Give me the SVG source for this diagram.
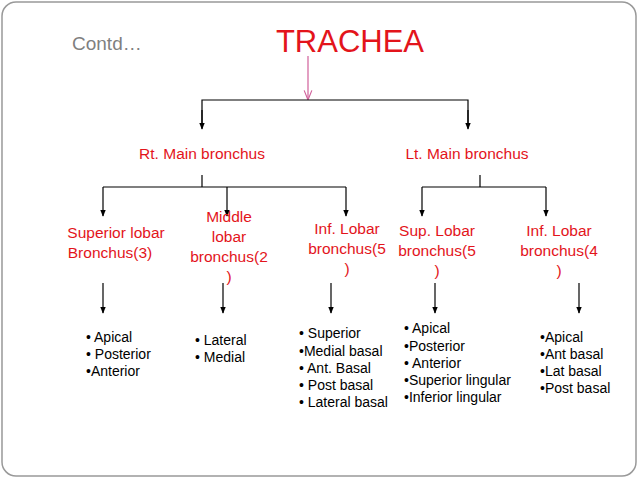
<svg xmlns="http://www.w3.org/2000/svg" width="638" height="478" viewBox="0 0 638 478">
<defs><marker id="a" viewBox="0 0 10 10" refX="9" refY="5" markerWidth="6" markerHeight="6" orient="auto"><path d="M0,1L10,5L0,9z" fill="#000"/></marker>
<marker id="p" viewBox="0 0 10 10" refX="9" refY="5" markerWidth="8" markerHeight="8" orient="auto"><path d="M0,1L10,5L0,9" fill="none" stroke="#d0609a" stroke-width="1.2"/></marker></defs>
<style>text{font-family:"Liberation Sans",Arial,sans-serif}.r{fill:#e3141b;font-size:15.5px;text-anchor:middle}.b{fill:#000;font-size:14px}.l{stroke:#000;stroke-width:1.2;fill:none}.ar{stroke:#000;stroke-width:1.2;marker-end:url(#a)}</style>
<rect x="2" y="2" width="634" height="474" rx="14" fill="#fff" stroke="#999" stroke-width="1.5"/>
<text x="72" y="50" font-size="19" fill="#7f7f7f">Contd…</text>
<g id="trachea"><text x="350" y="52" font-size="31" fill="#e3141b" text-anchor="middle">TRACHEA</text></g>
<g id="connectors">
<line x1="308" y1="56" x2="308" y2="99" stroke="#d0609a" stroke-width="1.2" marker-end="url(#p)"/>
<polyline class="l" points="202,128 202,100 468,100 468,128"/>
<line class="ar" x1="202" y1="110" x2="202" y2="129"/><line class="ar" x1="468" y1="110" x2="468" y2="129"/>
<line class="l" x1="202" y1="175" x2="202" y2="187"/><line class="l" x1="103" y1="187" x2="346" y2="187"/>
<line class="ar" x1="103" y1="187" x2="103" y2="216"/><line class="ar" x1="227" y1="187" x2="227" y2="216"/><line class="ar" x1="346" y1="187" x2="346" y2="216"/>
<line class="l" x1="480" y1="175" x2="480" y2="187"/><line class="l" x1="422" y1="187" x2="546" y2="187"/>
<line class="ar" x1="422" y1="187" x2="422" y2="216"/><line class="ar" x1="546" y1="187" x2="546" y2="216"/>
<line class="ar" x1="103" y1="283" x2="103" y2="313"/><line class="ar" x1="223" y1="283" x2="223" y2="313"/><line class="ar" x1="331" y1="283" x2="331" y2="313"/><line class="ar" x1="435" y1="283" x2="435" y2="313"/><line class="ar" x1="579" y1="283" x2="579" y2="313"/>
</g>
<g id="rt"><text class="r" x="202" y="159">Rt. Main bronchus</text></g>
<g id="lt"><text class="r" x="467" y="159">Lt. Main bronchus</text></g>
<g id="sup"><text class="r" x="116" y="238">Superior lobar</text><text class="r" x="110" y="258">Bronchus(3)</text></g>
<g id="mid"><text class="r" x="229" y="222">Middle</text><text class="r" x="229" y="242">lobar</text><text class="r" x="229" y="262">bronchus(2</text><text class="r" x="229" y="282">)</text></g>
<g id="inf"><text class="r" x="347" y="234">Inf. Lobar</text><text class="r" x="347" y="254">bronchus(5</text><text class="r" x="347" y="274">)</text></g>
<g id="lsup"><text class="r" x="437" y="236">Sup. Lobar</text><text class="r" x="437" y="256">bronchus(5</text><text class="r" x="437" y="276">)</text></g>
<g id="linf"><text class="r" x="559" y="236">Inf. Lobar</text><text class="r" x="559" y="256">bronchus(4</text><text class="r" x="559" y="276">)</text></g>
<g id="l1"><text class="b" x="86" y="342">• Apical</text><text class="b" x="86" y="359">• Posterior</text><text class="b" x="86" y="376">•Anterior</text></g>
<g id="l2"><text class="b" x="195" y="345">• Lateral</text><text class="b" x="195" y="362">• Medial</text></g>
<g id="l3"><text class="b" x="299" y="338">• Superior</text><text class="b" x="299" y="356">•Medial basal</text><text class="b" x="299" y="373">• Ant. Basal</text><text class="b" x="299" y="390">• Post basal</text><text class="b" x="299" y="407">• Lateral basal</text></g>
<g id="l4"><text class="b" x="404" y="333">• Apical</text><text class="b" x="404" y="351">•Posterior</text><text class="b" x="404" y="368">• Anterior</text><text class="b" x="404" y="385">•Superior lingular</text><text class="b" x="404" y="402">•Inferior lingular</text></g>
<g id="l5"><text class="b" x="540" y="342">•Apical</text><text class="b" x="540" y="359">•Ant basal</text><text class="b" x="540" y="376">•Lat basal</text><text class="b" x="540" y="393">•Post basal</text></g>
</svg>
